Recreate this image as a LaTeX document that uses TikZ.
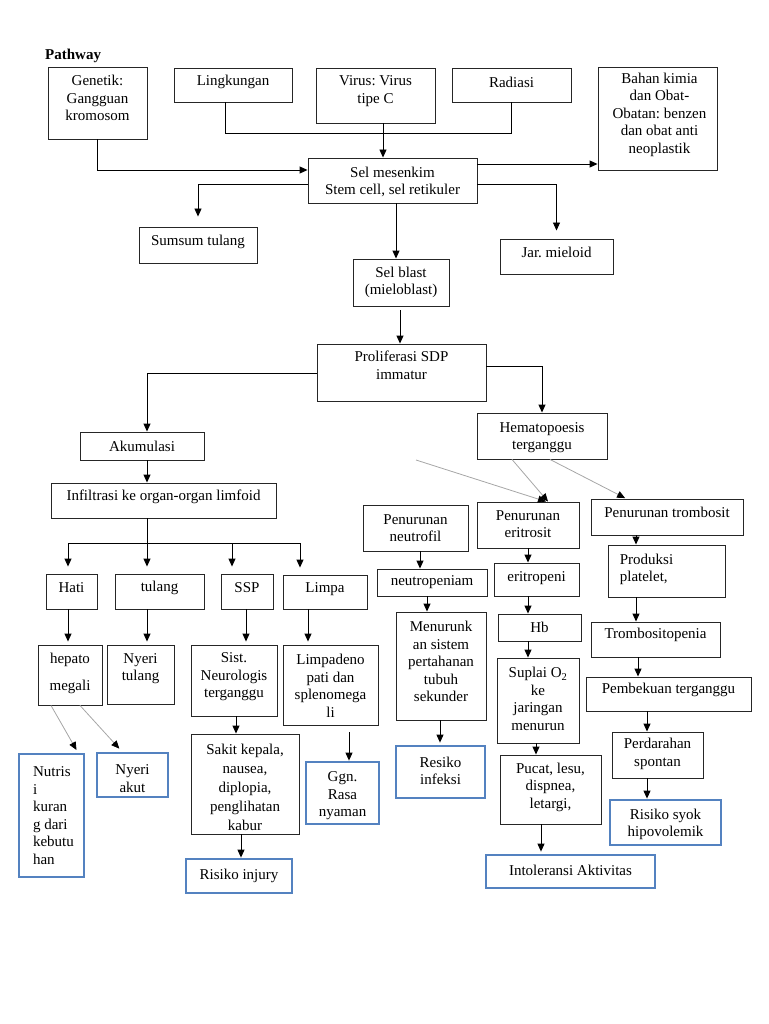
\documentclass[tikz,border=0pt]{standalone}
\usepackage{fontspec}
\setmainfont{Liberation Serif}
\usetikzlibrary{arrows.meta,fit}
\frenchspacing
\definecolor{bblue}{RGB}{84,130,192}
\newcommand\bxfont{\fontsize{15}{17.5}\selectfont}
\newcommand\mybx[8][]{\node[#2, fit={(#4,#5) (#6,#7)}, label={[txt,name=#3t,#1]center:{#8}}] (#3) {};}
\tikzset{
  box/.style={draw=black!85, line width=0.9pt, inner sep=0pt, rectangle},
  bbox/.style={draw=bblue, line width=2.8pt, inner sep=0pt, rectangle},
  txt/.style={font=\bxfont, align=center, inner sep=0pt},
  ln/.style={draw=black, line width=0.9pt},
  arr/.style={draw=black, line width=0.9pt, -{Triangle[length=8pt,width=7pt]}},
  garr/.style={draw=black!35, line width=0.8pt, -{Triangle[length=8pt,width=7pt,color=black]}}
}
\begin{document}
\begin{tikzpicture}[x=1pt,y=-1pt]
\useasboundingbox (0,0) rectangle (768,1024);
\node[font=\bfseries\bxfont, anchor=base west, inner sep=0pt] (title) at (45,60) {Pathway};

% boxes
\mybx[yshift=5pt]{box}{gen}{48}{67}{147}{139}{Genetik:\\Gangguan\\kromosom}
\mybx[yshift=3pt]{box}{ling}{174}{68}{292}{102}{Lingkungan}
\mybx[yshift=4.5pt]{box}{vir}{316}{68}{435}{123}{Virus: Virus\\tipe C}
\mybx[yshift=3pt]{box}{rad}{452}{68}{571}{102}{Radiasi}
\mybx[yshift=4pt,xshift=2pt]{box}{bah}{598}{67}{717}{170}{Bahan kimia\\dan Obat-\\Obatan: benzen\\dan obat anti\\neoplastik}
\mybx[yshift=-1.5pt]{box}{mes}{308}{158}{477}{203}{Sel mesenkim\\Stem cell, sel retikuler}
\mybx[yshift=3pt]{box}{sum}{139}{227}{257}{263}{Sumsum tulang}
\mybx[yshift=4.5pt]{box}{jar}{500}{239}{613}{274}{Jar. mieloid}
\mybx{box}{blast}{353}{259}{449}{306}{Sel blast\\(mieloblast)}
\mybx[yshift=7pt]{box}{prol}{317}{344}{486}{401}{Proliferasi SDP\\immatur}
\mybx{box}{akum}{80}{432}{204}{460}{Akumulasi}
\mybx[yshift=4pt]{box}{inf}{51}{483}{276}{518}{Infiltrasi ke organ-organ limfoid}
\mybx[yshift=-1.5pt]{box}{hem}{477}{413}{607}{459}{Hematopoesis\\terganggu}
\mybx{box}{pn}{363}{505}{468}{551}{Penurunan\\neutrofil}
\mybx[yshift=1pt]{box}{pe}{477}{502}{579}{548}{Penurunan\\eritrosit}
\mybx[yshift=5pt]{box}{pt}{591}{499}{743}{535}{Penurunan trombosit}
\mybx{box}{neu}{377}{569}{487}{596}{neutropeniam}
\mybx[yshift=1pt]{box}{eri}{494}{563}{579}{596}{eritropeni}
\mybx[yshift=1.5pt,xshift=-20pt,align=left]{box}{prod}{608}{545}{725}{597}{Produksi\\platelet,}
\mybx[yshift=3.5pt]{box}{hati}{46}{574}{97}{609}{Hati}
\mybx[yshift=3.5pt]{box}{tul}{115}{574}{204}{609}{tulang}
\mybx[yshift=3.5pt]{box}{ssp}{221}{574}{273}{609}{SSP}
\mybx[yshift=3pt]{box}{lim}{283}{575}{367}{609}{Limpa}
\mybx[yshift=4.5pt]{box}{men}{396}{612}{486}{720}{Menurunk\\an sistem\\pertahanan\\tubuh\\sekunder}
\mybx{box}{hb}{498}{614}{581}{641}{Hb}
\mybx[yshift=1.5pt]{box}{sup}{497}{658}{579}{743}{Suplai O\textsubscript{2}\\ke\\jaringan\\menurun}
\mybx[yshift=4.5pt]{box}{tromb}{591}{622}{720}{657}{Trombositopenia}
\mybx[yshift=4pt]{box}{pemb}{586}{677}{751}{711}{Pembekuan terganggu}
\mybx[yshift=1pt]{box}{perd}{612}{732}{703}{778}{Perdarahan\\spontan}
\mybx[yshift=2.5pt]{box}{puc}{500}{755}{601}{824}{Pucat, lesu,\\dispnea,\\letargi,}
\mybx[yshift=1.5pt]{box}{hep}{38}{645}{102}{705}{hepato\\[9pt]megali}
\mybx[yshift=6pt]{box}{nyt}{107}{645}{174}{704}{Nyeri\\tulang}
\mybx[yshift=3.5pt]{box}{sist}{191}{645}{277}{716}{Sist.\\Neurologis\\terganggu}
\mybx[yshift=-1pt]{box}{limpad}{283}{645}{378}{725}{Limpadeno\\pati dan\\splenomega\\li}
\mybx[yshift=-3pt]{box}{sak}{191}{734}{299}{834}{Sakit kepala,\\[1.5pt]nausea,\\[1.5pt]diplopia,\\[1.5pt]penglihatan\\[1.5pt]kabur}
% blue boxes
\mybx[yshift=-2pt]{bbox}{syok}{610}{800}{721}{845}{Risiko syok\\hipovolemik}
\mybx[yshift=1pt]{bbox}{rinf}{396}{746}{485}{798}{Resiko\\infeksi}
\mybx[yshift=1.5pt]{bbox}{intol}{486}{855}{655}{888}{Intoleransi Aktivitas}
\mybx[xshift=2pt,align=left]{bbox}{nut}{19}{754}{84}{877}{Nutris\\i\\kuran\\g dari\\kebutu\\han}
\mybx[yshift=-3.5pt]{bbox}{nya}{97}{753}{168}{797}{Nyeri\\akut}
\mybx[yshift=-3pt]{bbox}{ggn}{306}{762}{379}{824}{Ggn.\\Rasa\\nyaman}
\mybx{bbox}{inj}{186}{859}{292}{893}{Risiko injury}

% helper coordinates
\foreach \c in {51,68,78,80,122,147,225,232,236,241,246,300,308,349,383,396,400,420,427,440,512,528,536,541,546,548,550,626,636,638,647}
  {\coordinate (c\c) at (\c,0);}
\foreach \r in {133,164,170,184,366,373,543}
  {\coordinate (r\r) at (0,\r);}
\coordinate (g416) at (416,460);

% top connectors
\draw[arr] (gen.south) |- (mes.west |- r170);
\draw[ln] (c225 |- ling.south) |- (rad.south |- r133) -- (rad.south);
\draw[arr] (c383 |- vir.south) -- (c383 |- mes.north);
\draw[arr] (mes.east |- r164) -- (bah.west |- r164);
\draw[arr, shorten >=10pt] (mes.west |- r184) -| (sum.north);
\draw[arr, shorten >=8pt] (mes.east |- r184) -| (jar.north);
\draw[arr] (c396 |- mes.south) -- (c396 |- blast.north);
\draw[arr, shorten <=4pt] (c400 |- blast.south) -- (c400 |- prol.north);
\draw[arr] (prol.west |- r373) -| (c147 |- akum.north);
\draw[arr] (prol.east |- r366) -| (hem.north);
\draw[arr] (c147 |- akum.south) -- (c147 |- inf.north);

% left branch
\draw[ln] (c147 |- inf.south) -- (c147 |- r543);
\draw[ln] (c68 |- r543) -- (c300 |- r543);
\draw[arr, shorten >=7pt] (c68 |- r543) -- (c68 |- hati.north);
\draw[arr, shorten >=7pt] (c147 |- r543) -- (c147 |- tul.north);
\draw[arr, shorten >=7pt] (c232 |- r543) -- (c232 |- ssp.north);
\draw[arr, shorten >=7pt] (c300 |- r543) -- (c300 |- lim.north);
\draw[arr, shorten >=3pt] (c68 |- hati.south) -- (c68 |- hep.north);
\draw[arr, shorten >=3pt] (c147 |- tul.south) -- (c147 |- nyt.north);
\draw[arr, shorten >=3pt] (c246 |- ssp.south) -- (c246 |- sist.north);
\draw[arr, shorten >=3pt] (c308 |- lim.south) -- (c308 |- limpad.north);
\draw[garr, shorten >=3pt] (c51 |- hep.south) -- (c78 |- nut.north);
\draw[garr, shorten >=4pt] (c80 |- hep.south) -- (c122 |- nya.north);
\draw[arr] (c236 |- sist.south) -- (c236 |- sak.north);
\draw[arr, shorten <=7pt] (c349 |- limpad.south) -- (c349 |- ggn.north);
\draw[arr] (c241 |- sak.south) -- (c241 |- inj.north);

% right branch
\draw[garr] (g416) -- (c546 |- pe.north);
\draw[garr] (c512 |- hem.south) -- (c548 |- pe.north);
\draw[garr, shorten >=1pt] (c550 |- hem.south) -- (c626 |- pt.north);
\draw[arr] (c420 |- pn.south) -- (c420 |- neu.north);
\draw[arr] (c427 |- neu.south) -- (c427 |- men.north);
\draw[arr, shorten >=2pt] (c440 |- men.south) -- (c440 |- rinf.north);
\draw[arr] (c528 |- pe.south) -- (c528 |- eri.north);
\draw[arr] (c528 |- eri.south) -- (c528 |- hb.north);
\draw[arr] (c528 |- hb.south) -- (c528 |- sup.north);
\draw[arr] (c536 |- sup.south) -- (c536 |- puc.north);
\draw[arr, shorten >=2pt] (c541 |- puc.south) -- (c541 |- intol.north);
\draw[arr] (c636 |- pt.south) -- (c636 |- prod.north);
\draw[arr] (c636 |- prod.south) -- (c636 |- tromb.north);
\draw[arr] (c638 |- tromb.south) -- (c638 |- pemb.north);
\draw[arr] (c647 |- pemb.south) -- (c647 |- perd.north);
\draw[arr] (c647 |- perd.south) -- (c647 |- syok.north);
\end{tikzpicture}
\end{document}
